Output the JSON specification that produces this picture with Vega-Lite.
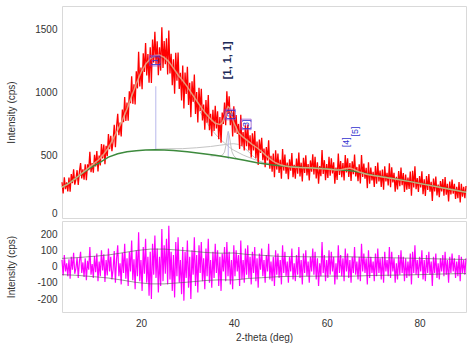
{
"$schema": "https://vega.github.io/schema/vega-lite/v6.json",
"background": "white",
"padding": 5,
"spacing": 1,
"config": {
 "view": {"stroke": "#d9d9d9"},
 "axis": {"grid": false, "domain": false, "ticks": false, "labelFont": "Liberation Sans", "titleFont": "Liberation Sans", "labelFontSize": 10, "titleFontSize": 10, "titleFontWeight": "normal", "labelColor": "#333333", "titleColor": "#333333"},
 "axisY": {"labelPadding": 5, "titleX": -46, "titleBaseline": "bottom"}
},
"datasets": {
 "obs": [
{"t":3,"o":285,"r":40},{"t":3.25,"o":195,"r":-55},{"t":3.5,"o":325,"r":70},{"t":3.75,"o":230,"r":-30},
{"t":4,"o":285,"r":20},{"t":4.25,"o":211,"r":-60},{"t":4.5,"o":323,"r":45},{"t":4.75,"o":209,"r":-75},
{"t":5,"o":350,"r":60},{"t":5.25,"o":277,"r":-20},{"t":5.5,"o":389,"r":85},{"t":5.75,"o":266,"r":-45},
{"t":6,"o":308,"r":-10},{"t":6.25,"o":381,"r":55},{"t":6.5,"o":263,"r":-70},{"t":6.75,"o":371,"r":30},
{"t":7,"o":438,"r":90},{"t":7.25,"o":316,"r":-40},{"t":7.5,"o":388,"r":25},{"t":7.75,"o":306,"r":-65},
{"t":8,"o":428,"r":50},{"t":8.25,"o":301,"r":-85},{"t":8.5,"o":428,"r":35},{"t":8.75,"o":381,"r":-20},
{"t":9,"o":528,"r":120},{"t":9.25,"o":366,"r":-50},{"t":9.5,"o":438,"r":15},{"t":9.75,"o":361,"r":-70},
{"t":10,"o":503,"r":65},{"t":10.25,"o":411,"r":-35},{"t":10.5,"o":533,"r":80},{"t":10.75,"o":371,"r":-90},
{"t":11,"o":498,"r":30},{"t":11.25,"o":419,"r":-60},{"t":11.5,"o":589,"r":100},{"t":11.75,"o":475,"r":-25},
{"t":12,"o":585,"r":75},{"t":12.25,"o":428,"r":-95},{"t":12.5,"o":575,"r":40},{"t":12.75,"o":493,"r":-55},
{"t":13,"o":670,"r":110},{"t":13.25,"o":548,"r":-30},{"t":13.5,"o":655,"r":60},{"t":13.75,"o":533,"r":-80},
{"t":14,"o":610,"r":-20},{"t":14.25,"o":743,"r":95},{"t":14.5,"o":565,"r":-100},{"t":14.75,"o":728,"r":45},
{"t":15,"o":830,"r":130},{"t":15.25,"o":660,"r":-60},{"t":15.5,"o":760,"r":20},{"t":15.75,"o":650,"r":-110},
{"t":16,"o":865,"r":85},{"t":16.25,"o":763,"r":-40},{"t":16.5,"o":965,"r":140},{"t":16.75,"o":773,"r":-75},
{"t":17,"o":920,"r":50},{"t":17.25,"o":775,"r":-120},{"t":17.5,"o":1010,"r":90},{"t":17.75,"o":915,"r":-30},
{"t":18,"o":1130,"r":160},{"t":18.25,"o":910,"r":-85},{"t":18.5,"o":1065,"r":45},{"t":18.75,"o":905,"r":-140},
{"t":19,"o":1170,"r":100},{"t":19.25,"o":1033,"r":-60},{"t":19.5,"o":1325,"r":210},{"t":19.75,"o":1048,"r":-90},
{"t":20,"o":1200,"r":40},{"t":20.25,"o":1026,"r":-150},{"t":20.5,"o":1313,"r":120},{"t":20.75,"o":1164,"r":-45},
{"t":21,"o":1395,"r":170},{"t":21.25,"o":1136,"r":-100},{"t":21.5,"o":1308,"r":60},{"t":21.75,"o":1079,"r":-180},
{"t":22,"o":1360,"r":90},{"t":22.25,"o":1076,"r":-200},{"t":22.5,"o":1423,"r":140},{"t":22.75,"o":1239,"r":-50},
{"t":23,"o":1485,"r":190},{"t":23.25,"o":1226,"r":-70},{"t":23.5,"o":1408,"r":110},{"t":23.75,"o":1139,"r":-160},
{"t":24,"o":1360,"r":60},{"t":24.25,"o":1175,"r":-120},{"t":24.5,"o":1520,"r":230},{"t":24.75,"o":1195,"r":-90},
{"t":25,"o":1410,"r":130},{"t":25.25,"o":1226,"r":-45},{"t":25.5,"o":1433,"r":170},{"t":25.75,"o":1144,"r":-110},
{"t":26,"o":1495,"r":250},{"t":26.25,"o":1153,"r":-80},{"t":26.5,"o":1310,"r":90},{"t":26.75,"o":1058,"r":-150},
{"t":27,"o":1265,"r":70},{"t":27.25,"o":991,"r":-190},{"t":27.5,"o":1318,"r":150},{"t":27.75,"o":1094,"r":-60},
{"t":28,"o":1320,"r":180},{"t":28.25,"o":1029,"r":-100},{"t":28.5,"o":1158,"r":40},{"t":28.75,"o":936,"r":-170},
{"t":29,"o":1215,"r":120},{"t":29.25,"o":873,"r":-210},{"t":29.5,"o":1160,"r":90},{"t":29.75,"o":988,"r":-70},
{"t":30,"o":1205,"r":160},{"t":30.25,"o":901,"r":-130},{"t":30.5,"o":1078,"r":60},{"t":30.75,"o":804,"r":-200},
{"t":31,"o":1090,"r":100},{"t":31.25,"o":926,"r":-50},{"t":31.5,"o":1143,"r":180},{"t":31.75,"o":829,"r":-120},
{"t":32,"o":1005,"r":70},{"t":32.25,"o":761,"r":-160},{"t":32.5,"o":1038,"r":130},{"t":32.75,"o":854,"r":-40},
{"t":33,"o":1030,"r":150},{"t":33.25,"o":778,"r":-90},{"t":33.5,"o":905,"r":50},{"t":33.75,"o":703,"r":-140},
{"t":34,"o":940,"r":110},{"t":34.25,"o":760,"r":-60},{"t":34.5,"o":980,"r":170},{"t":34.75,"o":700,"r":-100},
{"t":35,"o":830,"r":40},{"t":35.25,"o":651,"r":-130},{"t":35.5,"o":863,"r":90},{"t":35.75,"o":694,"r":-70},
{"t":36,"o":895,"r":140},{"t":36.25,"o":713,"r":-40},{"t":36.5,"o":850,"r":100},{"t":36.75,"o":628,"r":-120},
{"t":37,"o":805,"r":60},{"t":37.25,"o":600,"r":-150},{"t":37.5,"o":840,"r":80},{"t":37.75,"o":750,"r":-30},
{"t":38,"o":920,"r":120},{"t":38.25,"o":740,"r":-90},{"t":38.5,"o":1010,"r":150},{"t":38.75,"o":830,"r":-60},
{"t":39,"o":970,"r":90},{"t":39.25,"o":740,"r":-110},{"t":39.5,"o":860,"r":40},{"t":39.75,"o":650,"r":-140},
{"t":40,"o":890,"r":130},{"t":40.25,"o":680,"r":-60},{"t":40.5,"o":820,"r":100},{"t":40.75,"o":670,"r":-30},
{"t":41,"o":750,"r":70},{"t":41.25,"o":551,"r":-120},{"t":41.5,"o":823,"r":160},{"t":41.75,"o":574,"r":-80},
{"t":42,"o":685,"r":40},{"t":42.25,"o":538,"r":-100},{"t":42.5,"o":740,"r":110},{"t":42.75,"o":573,"r":-50},
{"t":43,"o":745,"r":130},{"t":43.25,"o":538,"r":-70},{"t":43.5,"o":660,"r":60},{"t":43.75,"o":483,"r":-110},
{"t":44,"o":675,"r":90},{"t":44.25,"o":539,"r":-40},{"t":44.5,"o":693,"r":120},{"t":44.75,"o":476,"r":-90},
{"t":45,"o":610,"r":50},{"t":45.25,"o":423,"r":-130},{"t":45.5,"o":625,"r":80},{"t":45.75,"o":518,"r":-20},
{"t":46,"o":640,"r":110},{"t":46.25,"o":461,"r":-60},{"t":46.5,"o":553,"r":40},{"t":46.75,"o":404,"r":-100},
{"t":47,"o":565,"r":70},{"t":47.25,"o":458,"r":-30},{"t":47.5,"o":620,"r":140},{"t":47.75,"o":393,"r":-80},
{"t":48,"o":495,"r":30},{"t":48.25,"o":369,"r":-90},{"t":48.5,"o":513,"r":60},{"t":48.75,"o":326,"r":-120},
{"t":49,"o":540,"r":100},{"t":49.25,"o":386,"r":-50},{"t":49.5,"o":513,"r":80},{"t":49.75,"o":359,"r":-70},
{"t":50,"o":465,"r":40},{"t":50.25,"o":313,"r":-110},{"t":50.5,"o":550,"r":130},{"t":50.75,"o":378,"r":-40},
{"t":51,"o":505,"r":90},{"t":51.25,"o":353,"r":-60},{"t":51.5,"o":442,"r":30},{"t":51.75,"o":310,"r":-100},
{"t":52,"o":468,"r":60},{"t":52.25,"o":377,"r":-30},{"t":52.5,"o":517,"r":110},{"t":52.75,"o":326,"r":-80},
{"t":53,"o":425,"r":20},{"t":53.25,"o":314,"r":-90},{"t":53.5,"o":474,"r":70},{"t":53.75,"o":353,"r":-50},
{"t":54,"o":522,"r":120},{"t":54.25,"o":332,"r":-70},{"t":54.5,"o":441,"r":40},{"t":54.75,"o":291,"r":-110},
{"t":55,"o":480,"r":80},{"t":55.25,"o":360,"r":-40},{"t":55.5,"o":500,"r":100},{"t":55.75,"o":340,"r":-60},
{"t":56,"o":430,"r":30},{"t":56.25,"o":300,"r":-100},{"t":56.5,"o":459,"r":60},{"t":56.75,"o":369,"r":-30},
{"t":57,"o":508,"r":110},{"t":57.25,"o":347,"r":-50},{"t":57.5,"o":487,"r":90},{"t":57.75,"o":316,"r":-80},
{"t":58,"o":445,"r":50},{"t":58.25,"o":274,"r":-120},{"t":58.5,"o":414,"r":20},{"t":58.75,"o":333,"r":-60},
{"t":59,"o":542,"r":150},{"t":59.25,"o":352,"r":-40},{"t":59.5,"o":461,"r":70},{"t":59.75,"o":301,"r":-90},
{"t":60,"o":430,"r":40},{"t":60.25,"o":319,"r":-70},{"t":60.5,"o":488,"r":100},{"t":60.75,"o":337,"r":-50},
{"t":61,"o":476,"r":90},{"t":61.25,"o":355,"r":-30},{"t":61.5,"o":444,"r":60},{"t":61.75,"o":273,"r":-110},
{"t":62,"o":402,"r":20},{"t":62.25,"o":303,"r":-80},{"t":62.5,"o":513,"r":130},{"t":62.75,"o":344,"r":-40},
{"t":63,"o":454,"r":70},{"t":63.25,"o":326,"r":-60},{"t":63.5,"o":438,"r":50},{"t":63.75,"o":300,"r":-90},
{"t":64,"o":502,"r":110},{"t":64.25,"o":364,"r":-30},{"t":64.5,"o":475,"r":80},{"t":64.75,"o":327,"r":-70},
{"t":65,"o":438,"r":40},{"t":65.25,"o":295,"r":-100},{"t":65.5,"o":452,"r":60},{"t":65.75,"o":349,"r":-40},
{"t":66,"o":506,"r":120},{"t":66.25,"o":332,"r":-50},{"t":66.5,"o":407,"r":30},{"t":66.75,"o":293,"r":-80},
{"t":67,"o":428,"r":60},{"t":67.25,"o":275,"r":-90},{"t":67.5,"o":502,"r":140},{"t":67.75,"o":328,"r":-30},
{"t":68,"o":435,"r":80},{"t":68.25,"o":313,"r":-40},{"t":68.5,"o":400,"r":50},{"t":68.75,"o":238,"r":-110},
{"t":69,"o":445,"r":100},{"t":69.25,"o":273,"r":-70},{"t":69.5,"o":402,"r":60},{"t":69.75,"o":300,"r":-40},
{"t":70,"o":368,"r":30},{"t":70.25,"o":247,"r":-90},{"t":70.5,"o":415,"r":80},{"t":70.75,"o":274,"r":-60},
{"t":71,"o":442,"r":110},{"t":71.25,"o":291,"r":-40},{"t":71.5,"o":379,"r":50},{"t":71.75,"o":248,"r":-80},
{"t":72,"o":386,"r":60},{"t":72.25,"o":225,"r":-100},{"t":72.5,"o":413,"r":90},{"t":72.75,"o":292,"r":-30},
{"t":73,"o":360,"r":40},{"t":73.25,"o":259,"r":-60},{"t":73.5,"o":437,"r":120},{"t":73.75,"o":246,"r":-70},
{"t":74,"o":404,"r":90},{"t":74.25,"o":283,"r":-30},{"t":74.5,"o":361,"r":50},{"t":74.75,"o":210,"r":-100},
{"t":75,"o":328,"r":20},{"t":75.25,"o":227,"r":-80},{"t":75.5,"o":375,"r":70},{"t":75.75,"o":254,"r":-50},
{"t":76,"o":402,"r":100},{"t":76.25,"o":261,"r":-40},{"t":76.5,"o":359,"r":60},{"t":76.75,"o":208,"r":-90},
{"t":77,"o":346,"r":50},{"t":77.25,"o":225,"r":-70},{"t":77.5,"o":323,"r":30},{"t":77.75,"o":232,"r":-60},
{"t":78,"o":370,"r":80},{"t":78.25,"o":178,"r":-110},{"t":78.5,"o":376,"r":90},{"t":78.75,"o":244,"r":-40},
{"t":79,"o":412,"r":130},{"t":79.25,"o":230,"r":-50},{"t":79.5,"o":319,"r":40},{"t":79.75,"o":207,"r":-70},
{"t":80,"o":335,"r":60},{"t":80.25,"o":243,"r":-30},{"t":80.5,"o":372,"r":100},{"t":80.75,"o":190,"r":-80},
{"t":81,"o":308,"r":40},{"t":81.25,"o":176,"r":-90},{"t":81.5,"o":335,"r":70},{"t":81.75,"o":223,"r":-40},
{"t":82,"o":351,"r":90},{"t":82.25,"o":209,"r":-50},{"t":82.5,"o":288,"r":30},{"t":82.75,"o":136,"r":-120},
{"t":83,"o":314,"r":60},{"t":83.25,"o":212,"r":-40},{"t":83.5,"o":331,"r":80},{"t":83.75,"o":179,"r":-70},
{"t":84,"o":267,"r":20},{"t":84.25,"o":165,"r":-80},{"t":84.5,"o":294,"r":50},{"t":84.75,"o":212,"r":-30},
{"t":85,"o":310,"r":70},{"t":85.25,"o":178,"r":-60},{"t":85.5,"o":327,"r":90},{"t":85.75,"o":185,"r":-50},
{"t":86,"o":273,"r":40},{"t":86.25,"o":131,"r":-100},{"t":86.5,"o":290,"r":60},{"t":86.75,"o":188,"r":-40},
{"t":87,"o":306,"r":80},{"t":87.25,"o":194,"r":-30},{"t":87.5,"o":273,"r":50},{"t":87.75,"o":151,"r":-70},
{"t":88,"o":249,"r":30},{"t":88.25,"o":157,"r":-60},{"t":88.5,"o":286,"r":70},{"t":88.75,"o":124,"r":-90},
{"t":89,"o":272,"r":60},{"t":89.25,"o":170,"r":-40},{"t":89.5,"o":249,"r":40},{"t":89.75,"o":157,"r":-50},
{"t":90,"o":255,"r":50}
 ],
 "fit": [
{"t":3,"f":245},{"t":4,"f":265},{"t":5,"f":290},{"t":6,"f":318},{"t":7,"f":348},{"t":8,"f":378},{"t":9,"f":408},{"t":10,"f":438},{"t":11,"f":468},{"t":12,"f":510},{"t":13,"f":560},{"t":14,"f":630},{"t":15,"f":700},{"t":16,"f":780},{"t":17,"f":870},{"t":18,"f":970},{"t":19,"f":1070},{"t":20,"f":1160},{"t":21,"f":1225},{"t":22,"f":1270},{"t":23,"f":1295},{"t":24,"f":1300},{"t":25,"f":1280},{"t":26,"f":1245},{"t":27,"f":1195},{"t":28,"f":1140},{"t":29,"f":1095},{"t":30,"f":1045},{"t":31,"f":990},{"t":32,"f":935},{"t":33,"f":880},{"t":34,"f":830},{"t":35,"f":790},{"t":36,"f":755},{"t":37,"f":745},{"t":37.5,"f":760},{"t":38,"f":800},{"t":38.25,"f":830},{"t":38.5,"f":862},{"t":38.75,"f":888},{"t":39,"f":880},{"t":39.25,"f":852},{"t":39.5,"f":820},{"t":39.75,"f":790},{"t":40,"f":760},{"t":41,"f":680},{"t":42,"f":645},{"t":43,"f":615},{"t":44,"f":585},{"t":45,"f":560},{"t":46,"f":530},{"t":47,"f":495},{"t":48,"f":465},{"t":49,"f":440},{"t":50,"f":425},{"t":51,"f":415},{"t":52,"f":408},{"t":53,"f":405},{"t":54,"f":402},{"t":55,"f":400},{"t":56,"f":400},{"t":57,"f":398},{"t":58,"f":395},{"t":59,"f":392},{"t":60,"f":390},{"t":61,"f":386},{"t":62,"f":382},{"t":63,"f":384},{"t":64,"f":392},{"t":65,"f":398},{"t":66,"f":386},{"t":67,"f":368},{"t":68,"f":355},{"t":69,"f":345},{"t":70,"f":338},{"t":71,"f":332},{"t":72,"f":326},{"t":73,"f":320},{"t":74,"f":314},{"t":75,"f":308},{"t":76,"f":302},{"t":77,"f":296},{"t":78,"f":290},{"t":79,"f":282},{"t":80,"f":275},{"t":81,"f":268},{"t":82,"f":261},{"t":83,"f":254},{"t":84,"f":247},{"t":85,"f":240},{"t":86,"f":233},{"t":87,"f":226},{"t":88,"f":219},{"t":89,"f":212},{"t":90,"f":205}
 ],
 "bg": [
{"t":3,"b":245},{"t":5,"b":290},{"t":7,"b":345},{"t":9,"b":398},{"t":11,"b":440},{"t":13,"b":485},{"t":15,"b":512},{"t":17,"b":528},{"t":19,"b":537},{"t":21,"b":543},{"t":23,"b":545},{"t":25,"b":543},{"t":27,"b":538},{"t":30,"b":528},{"t":33,"b":515},{"t":36,"b":500},{"t":39,"b":482},{"t":42,"b":462},{"t":45,"b":440},{"t":48,"b":425},{"t":50,"b":417},{"t":52,"b":410},{"t":55,"b":402},{"t":58,"b":396},{"t":60,"b":392},{"t":62,"b":384},{"t":64,"b":380},{"t":66,"b":372},{"t":68,"b":356},{"t":70,"b":340},{"t":75,"b":310},{"t":80,"b":276},{"t":85,"b":241},{"t":90,"b":205}
 ],
 "comp": [
{"id":"c1","t":23,"c":1283},{"id":"c1","t":24,"c":1288},{"id":"c1","t":25,"c":1265},{"id":"c1","t":26,"c":1228},{"id":"c1","t":27,"c":1175},{"id":"c1","t":28,"c":1118},{"id":"c1","t":29,"c":1065},{"id":"c1","t":30,"c":1010},{"id":"c1","t":31,"c":952},{"id":"c1","t":32,"c":890},{"id":"c1","t":33,"c":830},{"id":"c1","t":34,"c":770},{"id":"c1","t":35,"c":715},{"id":"c1","t":36,"c":670},{"id":"c1","t":37,"c":630},{"id":"c1","t":38,"c":598},{"id":"c1","t":39,"c":565},{"id":"c1","t":40,"c":540},{"id":"c1","t":42,"c":502},{"id":"c1","t":44,"c":472},{"id":"c1","t":46,"c":447},{"id":"c1","t":48,"c":433},{"id":"c1","t":50,"c":419},
{"id":"c3","t":23,"c":548},{"id":"c3","t":26,"c":552},{"id":"c3","t":29,"c":553},{"id":"c3","t":32,"c":560},{"id":"c3","t":35,"c":570},{"id":"c3","t":37,"c":580},{"id":"c3","t":39,"c":590},{"id":"c3","t":40,"c":592},{"id":"c3","t":41,"c":587},{"id":"c3","t":42,"c":567},{"id":"c3","t":43,"c":535},{"id":"c3","t":44,"c":498},{"id":"c3","t":45,"c":465},{"id":"c3","t":46,"c":444},{"id":"c3","t":47,"c":433},{"id":"c3","t":48,"c":426},{"id":"c3","t":50,"c":417},
{"id":"c2","t":35,"c":495},{"id":"c2","t":36.5,"c":495},{"id":"c2","t":37,"c":496},{"id":"c2","t":37.5,"c":500},{"id":"c2","t":38,"c":525},{"id":"c2","t":38.3,"c":580},{"id":"c2","t":38.6,"c":660},{"id":"c2","t":38.8,"c":690},{"id":"c2","t":39,"c":665},{"id":"c2","t":39.3,"c":590},{"id":"c2","t":39.6,"c":528},{"id":"c2","t":40,"c":495},{"id":"c2","t":40.5,"c":478},{"id":"c2","t":41,"c":468}
 ],
 "pk": [{"t":23.2,"y1":545,"y2":1050},{"t":38.8,"y1":470,"y2":690}],
 "lab": [
{"t":23.0,"y":1254,"txt":"[1]","box":1},{"t":39.2,"y":825,"txt":"[2]","box":1},{"t":42.6,"y":746,"txt":"[3]","box":1},{"t":64.2,"y":603,"txt":"[4]","box":0},{"t":66.1,"y":690,"txt":"[5]","box":0}
 ],
 "env": [
{"t":3,"u":50,"l":-50},{"t":6,"u":54,"l":-54},{"t":10,"u":63,"l":-63},{"t":13,"u":71,"l":-71},{"t":16,"u":84,"l":-84},{"t":19,"u":98,"l":-98},{"t":22,"u":107,"l":-107},{"t":25,"u":107,"l":-107},{"t":28,"u":101,"l":-101},{"t":31,"u":94,"l":-94},{"t":34,"u":86,"l":-86},{"t":37,"u":82,"l":-82},{"t":40,"u":83,"l":-83},{"t":43,"u":74,"l":-74},{"t":46,"u":69,"l":-69},{"t":50,"u":62,"l":-62},{"t":55,"u":60,"l":-60},{"t":60,"u":59,"l":-59},{"t":65,"u":60,"l":-60},{"t":70,"u":55,"l":-55},{"t":75,"u":53,"l":-53},{"t":80,"u":50,"l":-50},{"t":85,"u":46,"l":-46},{"t":90,"u":43,"l":-43}
 ]
},
"vconcat": [
 {
  "width": 404, "height": 212,
  "encoding": {
   "x": {"field": "t", "type": "quantitative", "scale": {"domain": [3, 90], "nice": false}, "axis": null}
  },
  "layer": [
   {"data": {"name": "comp"}, "mark": {"type": "line", "color": "#c4c4c4", "strokeWidth": 1},
    "encoding": {"y": {"field": "c", "type": "quantitative", "scale": {"domain": [0, 1690], "nice": false}, "title": "Intensity (cps)", "axis": {"values": [0, 500, 1000, 1500], "labelFlush": true, "format": "d"}},
                 "detail": {"field": "id"}}},
   {"data": {"name": "pk"}, "mark": {"type": "rule", "color": "#b8b8ec", "strokeWidth": 1},
    "encoding": {"y": {"field": "y1", "type": "quantitative", "title": "Intensity (cps)", "axis": {"values": [0, 500, 1000, 1500], "labelFlush": true, "format": "d"}}, "y2": {"field": "y2"}}},
   {"data": {"name": "obs"}, "mark": {"type": "line", "color": "#ff0000", "strokeWidth": 1.3},
    "encoding": {"y": {"field": "o", "type": "quantitative", "title": "Intensity (cps)", "axis": {"values": [0, 500, 1000, 1500], "labelFlush": true, "format": "d"}}}},
   {"data": {"name": "bg"}, "mark": {"type": "line", "color": "#3d8a3d", "strokeWidth": 1.5},
    "encoding": {"y": {"field": "b", "type": "quantitative", "title": "Intensity (cps)", "axis": {"values": [0, 500, 1000, 1500], "labelFlush": true, "format": "d"}}}},
   {"data": {"name": "fit"}, "mark": {"type": "line", "color": "#e2b08a", "strokeWidth": 1.5, "opacity": 0.85},
    "encoding": {"y": {"field": "f", "type": "quantitative", "title": "Intensity (cps)", "axis": {"values": [0, 500, 1000, 1500], "labelFlush": true, "format": "d"}}}},
   {"data": {"name": "lab"}, "transform": [{"filter": "datum.box == 1"}], "mark": {"type": "point", "shape": "square", "filled": false, "stroke": "#8a3fc8", "strokeWidth": 1, "size": 110},
    "encoding": {"y": {"field": "y", "type": "quantitative", "title": "Intensity (cps)", "axis": {"values": [0, 500, 1000, 1500], "labelFlush": true, "format": "d"}}}},
   {"data": {"name": "lab"}, "mark": {"type": "text", "angle": 270, "align": "center", "baseline": "middle", "font": "Liberation Sans", "fontSize": 9, "color": "#3232d0"},
    "encoding": {"y": {"field": "y", "type": "quantitative", "title": "Intensity (cps)", "axis": {"values": [0, 500, 1000, 1500], "labelFlush": true, "format": "d"}}, "text": {"field": "txt"}}},
   {"data": {"values": [{"t": 38.75, "y": 1258, "txt": "[1, 1, 1]"}]}, "mark": {"type": "text", "angle": 270, "align": "center", "baseline": "middle", "font": "Liberation Sans", "fontSize": 11, "fontWeight": "bold", "color": "#1c2a58"},
    "encoding": {"y": {"field": "y", "type": "quantitative", "title": "Intensity (cps)", "axis": {"values": [0, 500, 1000, 1500], "labelFlush": true, "format": "d"}}, "text": {"field": "txt"}}}
  ]
 },
 {
  "width": 404, "height": 91,
  "encoding": {
   "x": {"field": "t", "type": "quantitative", "scale": {"domain": [3, 90], "nice": false}, "title": "2-theta (deg)",
         "axis": {"values": [20, 40, 60, 80], "labelPadding": 6, "titlePadding": 4}}
  },
  "layer": [
   {"data": {"name": "obs"}, "mark": {"type": "line", "color": "#ff00ff", "strokeWidth": 1.2},
    "encoding": {"y": {"field": "r", "type": "quantitative", "scale": {"domain": [-280, 280], "nice": false}, "title": "Intensity (cps)",
                       "axis": {"values": [-200, -100, 0, 100, 200], "labelExpr": "'' + datum.value"}}}},
   {"data": {"name": "env"}, "mark": {"type": "line", "color": "#555555", "strokeWidth": 1, "opacity": 0.6},
    "encoding": {"y": {"field": "u", "type": "quantitative", "title": "Intensity (cps)", "axis": {"values": [-200, -100, 0, 100, 200], "labelExpr": "'' + datum.value"}}}},
   {"data": {"name": "env"}, "mark": {"type": "line", "color": "#555555", "strokeWidth": 1, "opacity": 0.6},
    "encoding": {"y": {"field": "l", "type": "quantitative", "title": "Intensity (cps)", "axis": {"values": [-200, -100, 0, 100, 200], "labelExpr": "'' + datum.value"}}}}
  ]
 }
]
}
